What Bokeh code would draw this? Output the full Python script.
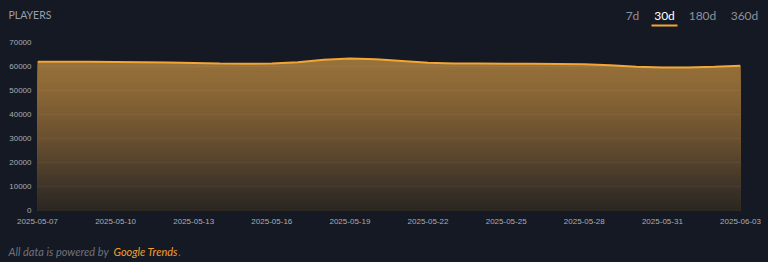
from datetime import datetime
import numpy as np
from bokeh.plotting import figure
from bokeh.layouts import column
from bokeh.models import Range1d, FixedTicker, DatetimeTickFormatter
from bokeh.core.properties import value
from bokeh.embed import file_html
from bokeh.resources import INLINE

# ---- data ----
dates = ["2025-05-07", "2025-05-08", "2025-05-09", "2025-05-10", "2025-05-11", "2025-05-12", "2025-05-13",
         "2025-05-14", "2025-05-15", "2025-05-16", "2025-05-17", "2025-05-18", "2025-05-19", "2025-05-20",
         "2025-05-21", "2025-05-22", "2025-05-23", "2025-05-24", "2025-05-25", "2025-05-26", "2025-05-27",
         "2025-05-28", "2025-05-29", "2025-05-30", "2025-05-31", "2025-06-01", "2025-06-02", "2025-06-03"]
players = [62000, 62000, 61950, 61900, 61800, 61700, 61500,
           61300, 61150, 61200, 61800, 62800, 63300, 63000,
           62300, 61600, 61300, 61200, 61100, 61100, 61000,
           60900, 60500, 59900, 59600, 59600, 59900, 60300]
tick_dates = ["2025-05-07", "2025-05-10", "2025-05-13", "2025-05-16", "2025-05-19",
              "2025-05-22", "2025-05-25", "2025-05-28", "2025-05-31", "2025-06-03"]
y_ticks = [0, 10000, 20000, 30000, 40000, 50000, 60000, 70000]
periods = ["7d", "30d", "180d", "360d"]
active_period = "30d"
title_text = "PLAYERS"
footer_parts = ["All data is powered by", "Google Trends", "."]

BG = "#151923"
ORANGE = "#f4a534"
W = 768
HH, MH, FH = 32, 200, 30


def ms(d):
    return datetime.strptime(d, "%Y-%m-%d").timestamp() * 1000.0


def blank(h):
    f = figure(width=W, height=h, output_backend="svg", toolbar_location=None,
               x_range=Range1d(0, W), y_range=Range1d(h, 0),
               x_axis_location=None, y_axis_location=None,
               min_border=0, min_border_left=0, min_border_right=0, min_border_top=0, min_border_bottom=0)
    f.frame_align = False
    f.background_fill_color = BG
    f.border_fill_color = BG
    f.outline_line_color = None
    f.grid.grid_line_color = None
    return f


# ---- header ----
hdr = blank(HH)
hdr.text(x=[8], y=[14], text=[title_text], text_color="#9a9ea6", text_font=value("Lato"),
         text_font_size="10.5px", text_baseline="middle", text_align="left")
btn_x = [632, 664, 702, 744]
for name, cx in zip(periods, btn_x):
    hdr.text(x=[cx], y=[15], text=[name], text_align="center", text_baseline="middle",
             text_color="#ffffff" if name == active_period else "#8d919a",
             text_font=value("Lato"), text_font_size="12px")
    if name == active_period:
        hdr.quad(left=[cx - 13], right=[cx + 13], bottom=[26], top=[24], fill_color=ORANGE, line_color=None)

# ---- main chart ----
xs = np.array([ms(d) for d in dates])
ys = np.array(players, dtype=float)

p = figure(width=W, height=MH, output_backend="svg", toolbar_location=None,
           x_range=Range1d(xs[0], xs[-1]), y_range=Range1d(0, 70000),
           x_axis_type="datetime",
           min_border_left=37, min_border_right=28, min_border_top=10, min_border_bottom=22)
p.frame_align = False
p.background_fill_color = BG
p.border_fill_color = BG
p.outline_line_color = None

# vertical gradient fill emulated with overlapping horizontal bands
stops_v = [0, 10000, 30000, 50000, 63000]
stops_c = [(0x2a, 0x26, 0x21), (0x3e, 0x34, 0x28), (0x6a, 0x50, 0x30), (0x8b, 0x67, 0x35), (0x97, 0x72, 0x3b)]


def col(v):
    for i in range(len(stops_v) - 1):
        if v <= stops_v[i + 1]:
            t = (v - stops_v[i]) / (stops_v[i + 1] - stops_v[i])
            c = [int(round(a + (b - a) * t)) for a, b in zip(stops_c[i], stops_c[i + 1])]
            return "#%02x%02x%02x" % tuple(c)
    return "#%02x%02x%02x" % stops_c[-1]


step = 1000
for k in range(63, -1, -1):
    hi = (k + 1) * step
    top = np.minimum(ys, hi)
    p.varea(x=xs, y1=np.zeros_like(ys), y2=top, fill_color=col(k * step + step / 2))

p.line(xs, ys, line_color=ORANGE, line_width=2)

p.xaxis.ticker = FixedTicker(ticks=[ms(d) for d in tick_dates])
p.xaxis.formatter = DatetimeTickFormatter(days="%Y-%m-%d", months="%Y-%m-%d")
p.yaxis.ticker = FixedTicker(ticks=y_ticks)
for ax in (p.xaxis[0], p.yaxis[0]):
    ax.axis_line_color = None
    ax.major_tick_line_color = None
    ax.minor_tick_line_color = None
    ax.major_tick_out = 0
    ax.major_tick_in = 0
    ax.minor_tick_out = 0
    ax.major_label_text_color = "#a9adb5"
    ax.major_label_text_font = "Liberation Sans"
    ax.major_label_text_font_size = "8px"
p.yaxis.major_label_standoff = 6
p.xaxis.major_label_standoff = 8

p.xgrid.grid_line_color = None
p.ygrid.ticker = FixedTicker(ticks=y_ticks)
p.ygrid.grid_line_color = "#ffffff"
p.ygrid.grid_line_alpha = 0.05
p.ygrid.level = "overlay"

# ---- footer ----
ftr = blank(FH)
part_x = [8, 113, 178]
part_c = ["#6f737b", "#f0a030", "#6f737b"]
for t, x, c in zip(footer_parts, part_x, part_c):
    ftr.text(x=[x], y=[19], text=[t], text_color=c, text_font=value("Lato"), text_font_style="italic",
             text_font_size="11px", text_baseline="middle", text_align="left")

layout = column(hdr, p, ftr, spacing=0)
html = file_html(layout, INLINE)
html = html.replace("<head>", "<head><style>html,body{background:%s;margin:0;}</style>" % BG, 1)
open("out.html", "w").write(html)
